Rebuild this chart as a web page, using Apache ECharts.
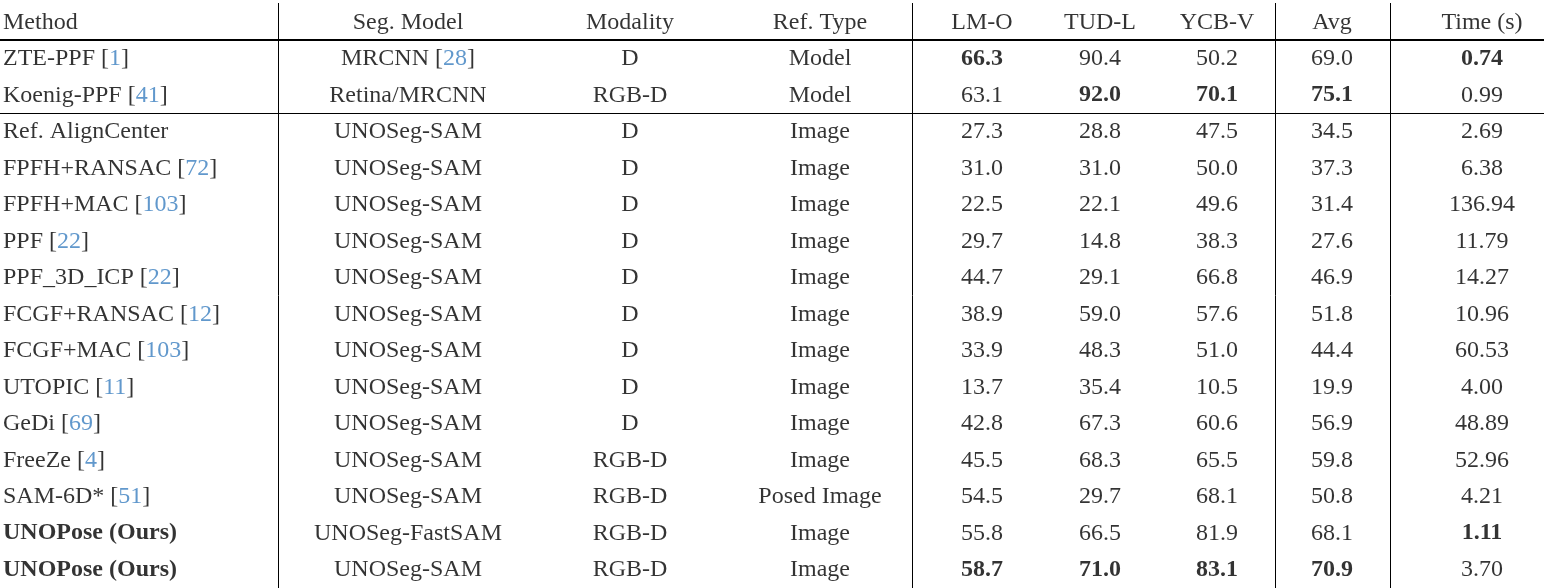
<!DOCTYPE html>
<html><head><meta charset="utf-8">
<script src="https://cdn.jsdelivr.net/npm/echarts@6/dist/echarts.min.js"></script>
<style>html,body{margin:0;padding:0;background:#fff}#c{width:1544px;height:588px}</style>
</head><body><div id="c"></div>
<script>
const headers = ["Method","Seg. Model","Modality","Ref. Type","LM-O","TUD-L","YCB-V","Avg","Time (s)"];
const methods = ["ZTE-PPF [1]","Koenig-PPF [41]","Ref. AlignCenter","FPFH+RANSAC [72]","FPFH+MAC [103]","PPF [22]","PPF_3D_ICP [22]","FCGF+RANSAC [12]","FCGF+MAC [103]","UTOPIC [11]","GeDi [69]","FreeZe [4]","SAM-6D* [51]","UNOPose (Ours)","UNOPose (Ours)"];
const segModels = ["MRCNN [28]","Retina/MRCNN","UNOSeg-SAM","UNOSeg-SAM","UNOSeg-SAM","UNOSeg-SAM","UNOSeg-SAM","UNOSeg-SAM","UNOSeg-SAM","UNOSeg-SAM","UNOSeg-SAM","UNOSeg-SAM","UNOSeg-SAM","UNOSeg-FastSAM","UNOSeg-SAM"];
const modalities = ["D","RGB-D","D","D","D","D","D","D","D","D","D","RGB-D","RGB-D","RGB-D","RGB-D"];
const refTypes = ["Model","Model","Image","Image","Image","Image","Image","Image","Image","Image","Image","Image","Posed Image","Image","Image"];
const lmo = ["66.3","63.1","27.3","31.0","22.5","29.7","44.7","38.9","33.9","13.7","42.8","45.5","54.5","55.8","58.7"];
const tudl = ["90.4","92.0","28.8","31.0","22.1","14.8","29.1","59.0","48.3","35.4","67.3","68.3","29.7","66.5","71.0"];
const ycbv = ["50.2","70.1","47.5","50.0","49.6","38.3","66.8","57.6","51.0","10.5","60.6","65.5","68.1","81.9","83.1"];
const avg = ["69.0","75.1","34.5","37.3","31.4","27.6","46.9","51.8","44.4","19.9","56.9","59.8","50.8","68.1","70.9"];
const times = ["0.74","0.99","2.69","6.38","136.94","11.79","14.27","10.96","60.53","4.00","48.89","52.96","4.21","1.11","3.70"];
// bold markers: [row, colIndex]
const boldCells = [[0,4],[0,8],[1,5],[1,6],[1,7],[13,0],[13,8],[14,0],[14,4],[14,5],[14,6],[14,7]];

const columns = [methods, segModels, modalities, refTypes, lmo, tudl, ycbv, avg, times];
const colX = [3, 408, 630, 820, 982, 1100, 1217, 1332, 1482];
const rowCats = ["h"].concat(methods.map((_, i) => "r" + i));

function fmt(text, bold) {
  const base = bold ? 'b' : 'n';
  return text.replace(/\[(\d+)\]/g, (m, d) => '[{c|' + d + '}]').split(/(\{c\|\d+\})/).map(s => {
    if (s.startsWith('{c|')) return s;
    return s ? '{' + base + '|' + s + '}' : '';
  }).join('');
}
const F = 'Liberation Serif';
const rich = {
  n: {fontFamily: F, fontSize: 24, color: '#000'},
  b: {fontFamily: F, fontSize: 24, color: '#000', fontWeight: 'bold'},
  c: {fontFamily: F, fontSize: 24, color: '#3a7ebf'}
};
const series = columns.map((col, ci) => {
  const data = [{value: [colX[ci], 'h'], label: {formatter: fmt(headers[ci], false)}}];
  col.forEach((t, ri) => {
    const bold = boldCells.some(b => b[0] === ri && b[1] === ci);
    data.push({value: [colX[ci], rowCats[ri + 1]], label: {formatter: fmt(t, bold)}});
  });
  return {
    type: 'scatter', symbolSize: 0, silent: true, data,
    label: {show: true, color: '#000', fontFamily: F, fontSize: 24, position: ci === 0 ? 'right' : 'inside', distance: 0, align: ci === 0 ? 'left' : 'center', rich}
  };
});

const chart = echarts.init(document.getElementById('c'));
const ln = (x1, y1, x2, y2, w) => ({type: 'line', shape: {x1, y1, x2, y2}, style: {stroke: '#000', lineWidth: w}});
chart.setOption({
  animation: false,
  grid: {left: 0, right: 0, top: 4, bottom: -2},
  xAxis: {type: 'value', min: 0, max: 1544, show: false},
  yAxis: {type: 'category', data: rowCats, inverse: true, show: false},
  series,
  graphic: [
    ln(0, 40, 1544, 40, 2), ln(0, 113.5, 1544, 113.5, 1),
    ln(278.5, 3, 278.5, 588, 1), ln(912.5, 3, 912.5, 588, 1),
    ln(1275.5, 3, 1275.5, 588, 1), ln(1390.5, 3, 1390.5, 588, 1)
  ]
});
</script></body></html>
